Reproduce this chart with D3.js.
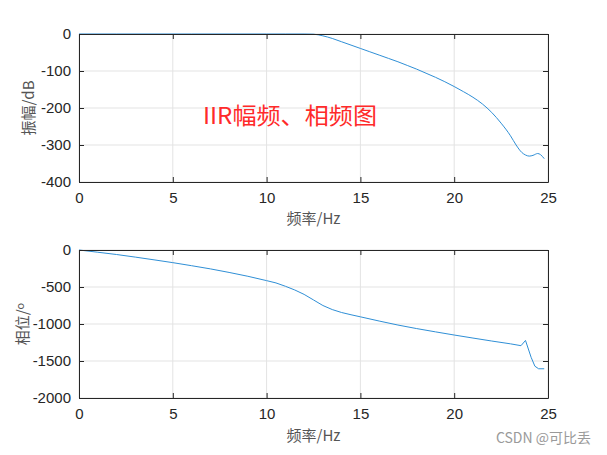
<!DOCTYPE html>
<html>
<head>
<meta charset="utf-8">
<script src="https://cdn.jsdelivr.net/npm/d3@7"></script>
<style>
  body { margin: 0; background: #fff; }
  svg { display: block; font-family: "Liberation Sans", Arial, "Noto Sans CJK SC", sans-serif; }
</style>
</head>
<body>
<div id="chart"></div>
<script>
// magnitude response, dB
var magFreq = [0, 2, 4, 6, 8, 10, 11, 12, 12.5, 13, 13.5, 14, 14.5, 15, 15.5, 16, 16.5, 17, 17.5, 18, 18.5, 19, 19.5, 20, 20.5, 21, 21.5, 22, 22.5, 23, 23.3, 23.6, 23.8, 24.0, 24.2, 24.45, 24.6, 24.8];
var magDb = [0, 0, 0, 0, 0, 0, 0, 0, -0.5, -5, -12, -21, -30, -39, -48, -57, -66, -75, -85, -95, -106, -117, -129, -142, -156, -171, -189, -212, -241, -275, -300, -320, -327, -330, -328, -323, -326, -337];

// phase response, degrees
var phFreq = [0, 1, 2, 3, 4, 5, 6, 7, 8, 9, 10, 10.5, 11, 11.5, 12, 12.5, 13, 13.5, 14, 14.5, 15, 16, 17, 18, 19, 20, 21, 22, 23, 23.56, 23.8, 24.1, 24.3, 24.5, 24.8];
var phDeg = [0, -30, -61, -96, -133, -171, -212, -255, -303, -355, -414, -445, -490, -540, -600, -675, -750, -805, -845, -875, -903, -960, -1014, -1062, -1106, -1149, -1190, -1230, -1268, -1293, -1222, -1450, -1570, -1605, -1605];

var xTicks = [0, 5, 10, 15, 20, 25];
var magTicks = [0, -100, -200, -300, -400];
var phTicks = [0, -500, -1000, -1500, -2000];

var W = 607, H = 455;
var left = 79, right = 548;

var svg = d3.select("#chart").append("svg")
  .attr("width", W)
  .attr("height", H);

// matlab style labels use a plain hyphen, not the unicode minus
var fmt = function(d) { return String(d); };

function panel(top, bottom, ydom, yticks, xs, ys, curve) {
  var x = d3.scaleLinear().domain([0, 25]).range([left, right]);
  var y = d3.scaleLinear().domain(ydom).range([bottom, top]);
  var g = svg.append("g");

  // grid
  g.selectAll(".gx").data(xTicks).enter().append("line")
    .attr("x1", d => x(d)).attr("x2", d => x(d))
    .attr("y1", top).attr("y2", bottom)
    .attr("stroke", "#e3e3e3").attr("stroke-width", 1);
  g.selectAll(".gy").data(yticks).enter().append("line")
    .attr("x1", left).attr("x2", right)
    .attr("y1", d => y(d)).attr("y2", d => y(d))
    .attr("stroke", "#e3e3e3").attr("stroke-width", 1);

  // curve
  var line = d3.line()
    .x(d => x(d[0]))
    .y(d => y(d[1]))
    .curve(curve);
  g.append("path")
    .datum(d3.zip(xs, ys))
    .attr("d", line)
    .attr("fill", "none")
    .attr("stroke", "#2f8fd6")
    .attr("stroke-width", 1);

  // axes, ticks inward, box on all sides
  var ax = g.append("g").attr("transform", "translate(0," + bottom + ")")
    .call(d3.axisBottom(x).tickValues(xTicks).tickSizeInner(-5).tickSizeOuter(0).tickPadding(10).tickFormat(fmt));
  var ay = g.append("g").attr("transform", "translate(" + left + ",0)")
    .call(d3.axisLeft(y).tickValues(yticks).tickSizeInner(-5).tickSizeOuter(0).tickPadding(8).tickFormat(fmt));
  g.append("g").attr("transform", "translate(0," + top + ")")
    .call(d3.axisTop(x).tickValues(xTicks).tickSizeInner(-5).tickSizeOuter(0).tickFormat(""));
  g.append("g").attr("transform", "translate(" + right + ",0)")
    .call(d3.axisRight(y).tickValues(yticks).tickSizeInner(-5).tickSizeOuter(0).tickFormat(""));

  g.selectAll(".domain").attr("stroke", "#262626");
  g.selectAll(".tick line").attr("stroke", "#262626");
  g.selectAll(".tick text")
    .attr("fill", "#262626")
    .style("font-size", "15px")
    .style("font-family", "'Liberation Sans', Arial, sans-serif");
  ax.selectAll(".tick text").attr("dy", "0.75em");

  return {x: x, y: y};
}

var p1 = panel(34, 182, [-400, 0], magTicks, magFreq, magDb, d3.curveMonotoneX);
var p2 = panel(250, 398, [-2000, 0], phTicks, phFreq, phDeg, d3.curveLinear);

// axis labels
function xlabel(yPos) {
  svg.append("text")
    .attr("x", (left + right) / 2)
    .attr("y", yPos)
    .attr("text-anchor", "middle")
    .attr("fill", "#555")
    .style("font-size", "15px")
    .style("font-family", "'Noto Sans CJK SC', sans-serif")
    .text("频率/Hz");
}
xlabel(224);
xlabel(441);

svg.append("text")
  .attr("transform", "translate(29,108) rotate(-90)")
  .attr("text-anchor", "middle")
  .attr("dy", "0.35em")
  .attr("fill", "#555")
  .style("font-size", "15px")
  .style("font-family", "'Noto Sans CJK SC', sans-serif")
  .text("振幅/dB");

var yl2 = svg.append("text")
  .attr("transform", "translate(23,324) rotate(-90)")
  .attr("text-anchor", "middle")
  .attr("dy", "0.35em")
  .attr("fill", "#555")
  .style("font-size", "15px")
  .style("font-family", "'Noto Sans CJK SC', sans-serif");
yl2.append("tspan").text("相位/");
yl2.append("tspan").attr("dy", "-0.4em").style("font-size", "11px").text("o");

// title text inside top plot
svg.append("text")
  .attr("x", 203)
  .attr("y", 124)
  .attr("fill", "#ff2a2a")
  .attr("textLength", 174)
  .attr("lengthAdjust", "spacingAndGlyphs")
  .style("font-size", "23px")
  .style("font-family", "'Noto Sans CJK SC', sans-serif")
  .text("IIR幅频、相频图");

// watermark
svg.append("text")
  .attr("x", 591)
  .attr("y", 443)
  .attr("text-anchor", "end")
  .attr("fill", "#9a9a9a")
  .style("font-size", "14px")
  .style("font-family", "'Noto Sans CJK SC', sans-serif")
  .text("CSDN @可比丢");
</script>
</body>
</html>
